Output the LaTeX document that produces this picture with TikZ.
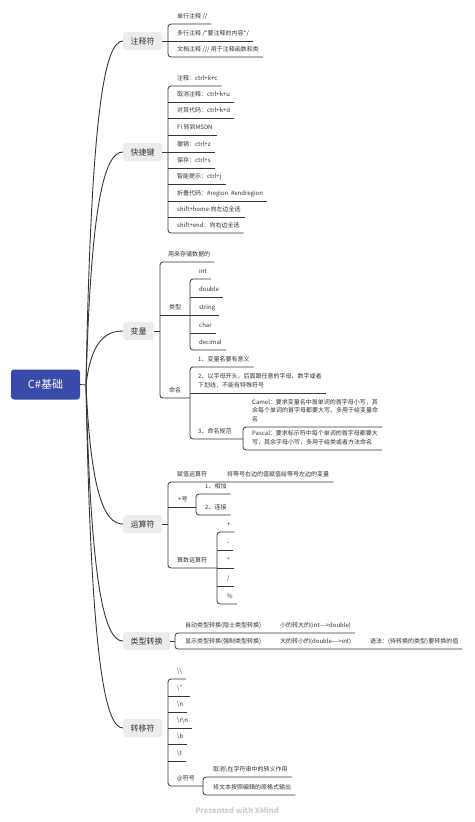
\documentclass[tikz,border=0pt]{standalone}
\usepackage{fontspec}
\setmainfont{Noto Sans CJK SC}
\usetikzlibrary{calc}
\definecolor{linec}{RGB}{55,55,55}
\definecolor{textc}{RGB}{51,51,51}
\definecolor{branchc}{RGB}{236,236,236}
\definecolor{rootc}{RGB}{57,74,168}
\definecolor{markc}{RGB}{205,205,205}
\tikzset{
  ln/.style={draw=linec, line width=0.8pt},
  br/.style={ln, rounded corners=3pt},
  cv/.style={draw=linec, line width=0.9pt},
  leaf/.style={font=\fontsize{6}{8.4}\selectfont, text=textc, inner xsep=0pt, inner ysep=4pt, text depth=1.5pt, anchor=south west, align=left},
  branch/.style={fill=branchc, rounded corners=3pt, font=\fontsize{8}{9}\selectfont, text=textc, inner xsep=7.5pt, minimum height=18pt, anchor=west},
  rootbox/.style={fill=rootc, rounded corners=3pt, text=white, font=\fontsize{11}{12}\selectfont, minimum width=69pt, minimum height=30pt}
}
\newcommand{\te}[1]{($(#1.south east)+(4,0)$)}
\begin{document}
\begin{tikzpicture}[x=1pt,y=-1pt]
\fill[white] (0,0) rectangle (474,822);
\useasboundingbox (0,0) rectangle (474,822);

% root and trunk
\node[rootbox] (root) at (45.5,384.5) {C\#基础};
\coordinate (trunk) at (86,385);
\draw[ln] (root.east) -- (trunk);

% main branches
\node[branch] (zs) at (123,41) {注释符};
\node[branch] (kj) at (123,152) {快捷键};
\node[branch] (bl) at (123,331) {变量};
\node[branch] (ys) at (123,524) {运算符};
\node[branch] (lz) at (123,641) {类型转换};
\node[branch] (zy) at (123,728) {转移符};

\draw[cv] (trunk) .. controls +(5,-275) and +(-18,0) .. (zs.west);
\draw[cv] (trunk) .. controls +(5,-186) and +(-18,0) .. (kj.west);
\draw[cv] (trunk) .. controls +(5,-43) and +(-18,0) .. (bl.west);
\draw[cv] (trunk) .. controls +(5,111) and +(-18,0) .. (ys.west);
\draw[cv] (trunk) .. controls +(5,205) and +(-18,0) .. (lz.west);
\draw[cv] (trunk) .. controls +(5,274) and +(-18,0) .. (zy.west);

% ---------- 注释符
\coordinate (zsb) at (168,0);
\node[leaf] (zs1) at (177,24) {单行注释 //};
\node[leaf] (zs2) at (177,41) {多行注释 /*要注释的内容*/};
\node[leaf] (zs3) at (177,57) {文档注释 /// 用于注释函数和类};
\draw[ln] (zs.east) -- (zs.east -| zsb);
\draw[br] \te{zs1} -- (zs1.south -| zsb) -- (zs3.south -| zsb) -- \te{zs3};
\draw[ln] (zs2.south -| zsb) -- \te{zs2};

% ---------- 快捷键
\coordinate (kjb) at (168,0);
\node[leaf] (kj1) at (177,86) {注释：ctrl+k+c};
\node[leaf] (kj2) at (177,102) {取消注释：ctrl+k+u};
\node[leaf] (kj3) at (177,118) {对其代码：ctrl+k+d};
\node[leaf] (kj4) at (177,135) {FI 转到MSDN};
\node[leaf] (kj5) at (177,152) {撤销：ctrl+z};
\node[leaf] (kj6) at (177,168) {保存：ctrl+s};
\node[leaf] (kj7) at (177,184) {智能提示：ctrl+j};
\node[leaf] (kj8) at (177,201) {折叠代码：\#region\ \ \#endregion};
\node[leaf] (kj9) at (177,217) {shift+home:向左边全选};
\node[leaf] (kj10) at (177,233) {shift+end：向右边全选};
\draw[ln] (kj.east) -- (kj.east -| kjb);
\draw[br] \te{kj1} -- (kj1.south -| kjb) -- (kj10.south -| kjb) -- \te{kj10};
\foreach \i in {2,...,9} \draw[ln] (kj\i.south -| kjb) -- \te{kj\i};

% ---------- 变量
\coordinate (blb) at (160,0);
\coordinate (lxb) at (190,0);
\coordinate (mmb) at (190,0);
\coordinate (gfb) at (243,0);
\node[leaf] (bl1) at (168,262) {用来存储数据的};
\node[leaf] (bl2) at (169,315) {类型};
\node[leaf] (bl3) at (169,398) {命名};
\draw[ln] (bl.east) -- (bl.east -| blb);
\draw[br] \te{bl1} -- (bl1.south -| blb) -- (bl3.south -| blb) -- (bl3.south -| mmb);
\draw[ln] (bl2.south -| blb) -- (bl2.south -| lxb);

\node[leaf] (lx1) at (199,279) {int};
\node[leaf] (lx2) at (199,297) {double};
\node[leaf] (lx3) at (199,315) {string};
\node[leaf] (lx4) at (199,333) {char};
\node[leaf] (lx5) at (199,350) {decimal};
\draw[br] \te{lx1} -- (lx1.south -| lxb) -- (lx5.south -| lxb) -- \te{lx5};
\foreach \i in {2,3,4} \draw[ln] (lx\i.south -| lxb) -- \te{lx\i};

\node[leaf] (mm1) at (198,367) {1、变量名要有意义};
\node[leaf] (mm2) at (198,393) {2、以字母开头，后面跟任意的字母、数字或者\\下划线，不能有特殊符号};
\node[leaf] (mm3) at (198,439) {3、命名规范};
\draw[br] \te{mm1} -- (mm1.south -| mmb) -- (mm3.south -| mmb) -- (mm3.south -| gfb);
\draw[ln] (mm2.south -| mmb) -- \te{mm2};

\node[leaf] (gf1) at (252,427) {Camel：要求变量名中首单词的首字母小写，其\\余每个单词的首字母都要大写。多用于给变量命\\名};
\node[leaf] (gf2) at (252,450) {Pascal：要求标示符中每个单词的首字母都要大\\写，其余字母小写，多用于给类或者方法命名};
\draw[br] \te{gf1} -- (gf1.south -| gfb) -- (gf2.south -| gfb) -- \te{gf2};

% ---------- 运算符
\coordinate (ysb) at (168,0);
\coordinate (jhb) at (196,0);
\coordinate (ssb) at (217,0);
\node[leaf] (ys1) at (177,482) {赋值运算符};
\node[leaf] (ys1c) at (227,482) {将等号右边的值赋值给等号左边的变量};
\node[leaf] (ys2) at (178,507) {+号};
\node[leaf] (ys3) at (177,568) {算数运算符};
\draw[ln] (ys.east) -- (ys.east -| ysb);
\draw[br] \te{ys1c} -- (ys1.south -| ysb) -- (ys3.south -| ysb) -- (ys3.south -| ssb);
\draw[ln] (ys2.south -| ysb) -- (ys2.south -| jhb);

\node[leaf] (jh1) at (205,494) {1、相加};
\node[leaf] (jh2) at (205,515) {2、连接};
\draw[br] \te{jh1} -- (jh1.south -| jhb) -- (jh2.south -| jhb) -- \te{jh2};

\node[leaf] (ss1) at (227,532) {+};
\node[leaf] (ss2) at (227,550) {-};
\node[leaf] (ss3) at (227,568) {*};
\node[leaf] (ss4) at (227,586) {/};
\node[leaf] (ss5) at (227,604) {\%};
\draw[br] \te{ss1} -- (ss1.south -| ssb) -- (ss5.south -| ssb) -- \te{ss5};
\foreach \i in {2,3,4} \draw[ln] (ss\i.south -| ssb) -- \te{ss\i};

% ---------- 类型转换
\coordinate (lzb) at (175,0);
\node[leaf] (lz1) at (185,633) {自动类型转换(隐士类型转换)};
\node[leaf] (lz1c) at (280,633) {小的转大的(int{-}{-}{-}>double)};
\node[leaf] (lz2) at (185,649) {显示类型转换(强制类型转换)};
\node[leaf] (lz2c) at (280,649) {大的转小的(double{-}{-}{-}>int)};
\node[leaf] (lz2cc) at (370,649) {语法：(待转换的类型)要转换的值};
\draw[ln] (lz.east) -- (lz.east -| lzb);
\draw[br] \te{lz1c} -- (lz1.south -| lzb) -- (lz2.south -| lzb) -- \te{lz2cc};

% ---------- 转移符
\coordinate (zyb) at (168,0);
\coordinate (fhb) at (203,0);
\node[leaf] (zy1) at (177,679) {\textbackslash\textbackslash};
\node[leaf] (zy2) at (177,696) {\textbackslash"};
\node[leaf] (zy3) at (177,712) {\textbackslash n};
\node[leaf] (zy4) at (177,728) {\textbackslash r\textbackslash n};
\node[leaf] (zy5) at (177,744) {\textbackslash b};
\node[leaf] (zy6) at (177,761) {\textbackslash t};
\node[leaf] (zy7) at (177,786) {@符号};
\draw[br] \te{zy1} -- (zy1.south -| zyb) -- (zy7.south -| zyb) -- (zy7.south -| fhb);
\foreach \i in {2,...,6} \draw[ln] (zy\i.south -| zyb) -- \te{zy\i};

\node[leaf] (fh1) at (213,777) {取消\textbackslash 在字符串中的转义作用};
\node[leaf] (fh2) at (213,795) {将文本按照编辑的原格式输出};
\draw[br] \te{fh1} -- (fh1.south -| fhb) -- (fh2.south -| fhb) -- \te{fh2};

% watermark
\node[text=markc, font=\fontsize{7.5}{8}\selectfont\bfseries] (mark) at (237,810) {Presented with XMind};
\end{tikzpicture}
\end{document}
